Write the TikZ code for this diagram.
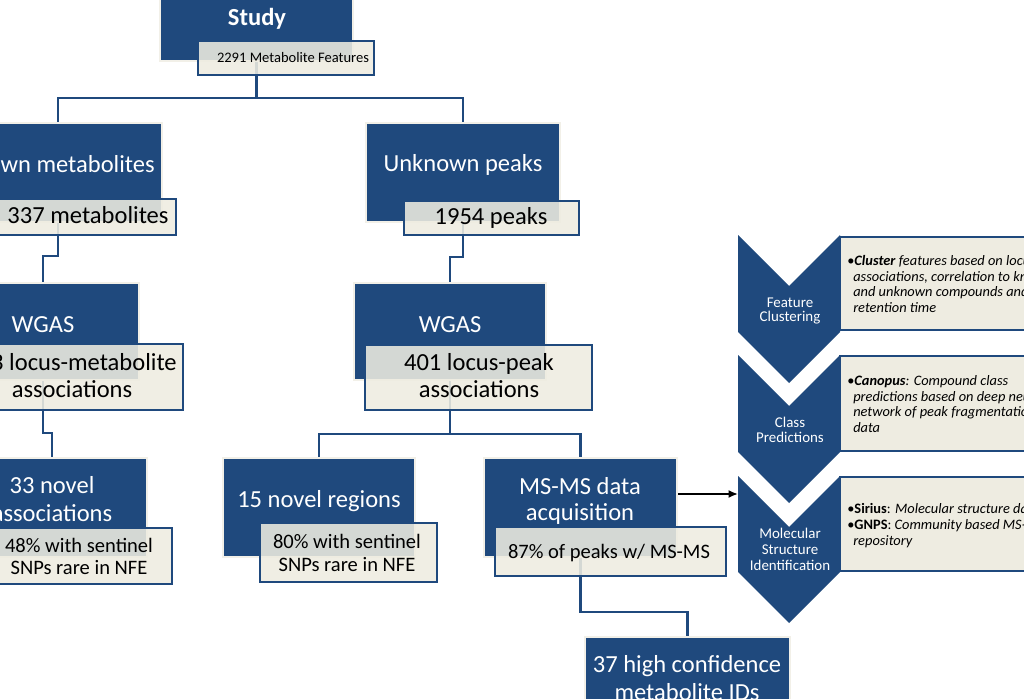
\documentclass[tikz,border=0pt]{standalone}
\usepackage{fontspec}
\setmainfont{Carlito}
\usetikzlibrary{arrows.meta,backgrounds}
\definecolor{navy}{RGB}{31,73,125}
\definecolor{beige}{RGB}{238,236,225}
\definecolor{rim}{RGB}{242,240,232}
\newcommand\mybox[6]{\node[#1,minimum width={(#4-#2)*0.75pt},minimum height={(#5-#3)*0.75pt}] (#6) at ({(#2+#4)/2},{(#3+#5)/2}) {};}
\begin{document}
\begin{tikzpicture}[x=0.75pt,y=-0.75pt,
  bluebox/.style={fill=navy,draw=rim,line width=1.5pt,inner sep=0pt},
  subbox/.style={fill=beige,fill opacity=0.88,draw=navy,draw opacity=1,line width=1.5pt,inner sep=0pt},
  tbox/.style={fill=beige,draw=navy,line width=1.5pt,inner sep=0pt},
  conn/.style={draw=navy,line width=2pt},
  big/.style={font=\fontsize{18.4}{22}\selectfont,text=white,inner sep=0pt,anchor=base},
  bigdark/.style={font=\fontsize{18.4}{22}\selectfont,text=black,inner sep=0pt,anchor=base},
  mid/.style={font=\fontsize{15.4}{18}\selectfont,text=black,inner sep=0pt,anchor=base},
  chevtxt/.style={font=\fontsize{11.2}{13}\selectfont,text=white,inner sep=0pt,anchor=base},
  info/.style={font=\fontsize{10.8}{13}\selectfont,text=black,inner sep=0pt,anchor=base west},
  chev/.style={fill=navy}
]
\useasboundingbox (0,0) rectangle (1024,699);
\clip (0,0) rectangle (1024,699);

% boxes
\mybox{bluebox}{160}{-40}{353}{61}{studybox}
\mybox{subbox}{198}{41}{374}{75}{studysub}
\mybox{bluebox}{-46}{123}{162}{222}{knownbox}
\mybox{subbox}{-10}{199}{176}{235}{knownsub}
\mybox{bluebox}{366}{123}{560}{222}{unkbox}
\mybox{subbox}{404}{201}{579}{235}{unksub}
\mybox{bluebox}{-53}{283}{139}{380}{wgasAbox}
\mybox{subbox}{-40}{344}{183}{410}{wgasAsub}
\mybox{bluebox}{354}{283}{546}{380}{wgasBbox}
\mybox{subbox}{365}{345}{592}{410}{wgasBsub}
\mybox{bluebox}{-43}{458}{147}{557}{novAbox}
\mybox{subbox}{-40}{528}{172}{584}{novAsub}
\mybox{bluebox}{223}{458}{415}{557}{novBbox}
\mybox{subbox}{260}{523}{437}{582}{novBsub}
\mybox{bluebox}{484}{458}{677}{557}{msmsbox}
\mybox{subbox}{495}{527}{726}{576}{msmssub}
\mybox{bluebox}{585}{637}{790}{760}{idsbox}

% connectors
\begin{scope}[on background layer]
\fill[white] (0,0) rectangle (1024,699);
\draw[conn] (studybox.south) -- ++(0,36) coordinate (sj) -| (knownbox.north);
\draw[conn] (sj) -| (unkbox.north);
\draw[conn] (knownbox.south) -- ++(0,33) -| (wgasAbox.north);
\draw[conn] (unkbox.south) -- ++(0,34) -| (wgasBbox.north);
\draw[conn] (wgasAbox.south) -- ++(0,52) -| (novAbox.north);
\draw[conn] (wgasBbox.south) -- ++(0,53) coordinate (wj) -| (novBbox.north);
\draw[conn] (wj) -| (msmsbox.north);
\draw[conn] (msmsbox.south) -- ++(0,54) -| (idsbox.north);
\end{scope}

% texts
\node[big,font=\fontsize{18.4}{22}\selectfont\bfseries] (tstudy) at (257,26) {Study};
\node[inner sep=0pt,anchor=base,font=\fontsize{10.9}{13}\selectfont] (tfeat) at (293,63) {2291 Metabolite Features};
\node[big,anchor=base east] (tknown) at (155,172) {Known metabolites};
\node[bigdark] (t337) at (88,223) {337 metabolites};
\node[big] (tunk) at (463,171) {Unknown peaks};
\node[bigdark] (t1954) at (491,224) {1954 peaks};
\node[big] (twgasA) at (43,332) {WGAS};
\node[bigdark,anchor=base east] (tlmA) at (177,370) {3 locus-metabolite};
\node[bigdark] (tasA) at (72,397) {associations};
\node[big] (twgasB) at (450,332) {WGAS};
\node[bigdark] (tlpB) at (479,370) {401 locus-peak};
\node[bigdark] (tasB) at (479,397) {associations};
\node[big] (tnovA1) at (52,493) {33 novel};
\node[big] (tnovA2) at (52,521) {associations};
\node[mid] (tsnA1) at (79,552) {48\% with sentinel};
\node[mid] (tsnA2) at (79,574) {SNPs rare in NFE};
\node[big] (tnovB) at (319,507) {15 novel regions};
\node[mid] (tsnB1) at (347,548) {80\% with sentinel};
\node[mid] (tsnB2) at (347,571) {SNPs rare in NFE};
\node[big] (tms1) at (580,494) {MS-MS data};
\node[big] (tms2) at (580,520) {acquisition};
\node[mid] (tms3) at (609,558) {87\% of peaks w/ MS-MS};
\node[big] (tids1) at (687,672) {37 high confidence};
\node[big] (tids2) at (687,700) {metabolite IDs};

% info boxes
\mybox{tbox}{840}{237}{1050}{330}{infoA}
\mybox{tbox}{840}{356}{1050}{451}{infoB}
\mybox{tbox}{840}{477}{1050}{571}{infoC}

% chevrons
\fill[chev] (738,235) -- (789,286) -- (840,235) -- (840,332) -- (789,383) -- (738,332) -- cycle;
\fill[chev] (738,355) -- (789,406) -- (840,355) -- (840,452) -- (789,503) -- (738,452) -- cycle;
\fill[chev] (738,476) -- (789,527) -- (840,476) -- (840,572) -- (789,623) -- (738,572) -- cycle;
\coordinate (ch3w) at (738,494);
\draw[line width=1.5pt,-{Latex[length=7pt,width=6pt]}] (msmsbox.east |- ch3w) -- (ch3w);

\node[chevtxt] (cA1) at (790,307) {Feature};
\node[chevtxt] (cA2) at (790,321) {Clustering};
\node[chevtxt] (cB1) at (790,427) {Class};
\node[chevtxt] (cB2) at (790,442) {Predictions};
\node[chevtxt] (cC1) at (790,538) {Molecular};
\node[chevtxt] (cC2) at (790,554) {Structure};
\node[chevtxt] (cC3) at (790,570) {Identification};

\node[info] (iA1) at (847,265) {•\textit{\textbf{Cluster} features based on locus}};
\node[info] (iA2) at (853,281) {\textit{associations, correlation to known}};
\node[info] (iA3) at (853,296.5) {\textit{and unknown compounds and}};
\node[info] (iA4) at (853,312) {\textit{retention time}};
\node[info] (iB1) at (847,385) {•\textit{\textbf{Canopus}: Compound class}};
\node[info] (iB2) at (853,401) {\textit{predictions based on deep neural}};
\node[info] (iB3) at (853,416) {\textit{network of peak fragmentation}};
\node[info] (iB4) at (853,432) {\textit{data}};
\node[info] (iC1) at (847,513) {•\textbf{Sirius}: \textit{Molecular structure database}};
\node[info] (iC2) at (847,529) {•\textbf{GNPS}: \textit{Community based MS-MS}};
\node[info] (iC3) at (853,545) {\textit{repository}};
\end{tikzpicture}
\end{document}
